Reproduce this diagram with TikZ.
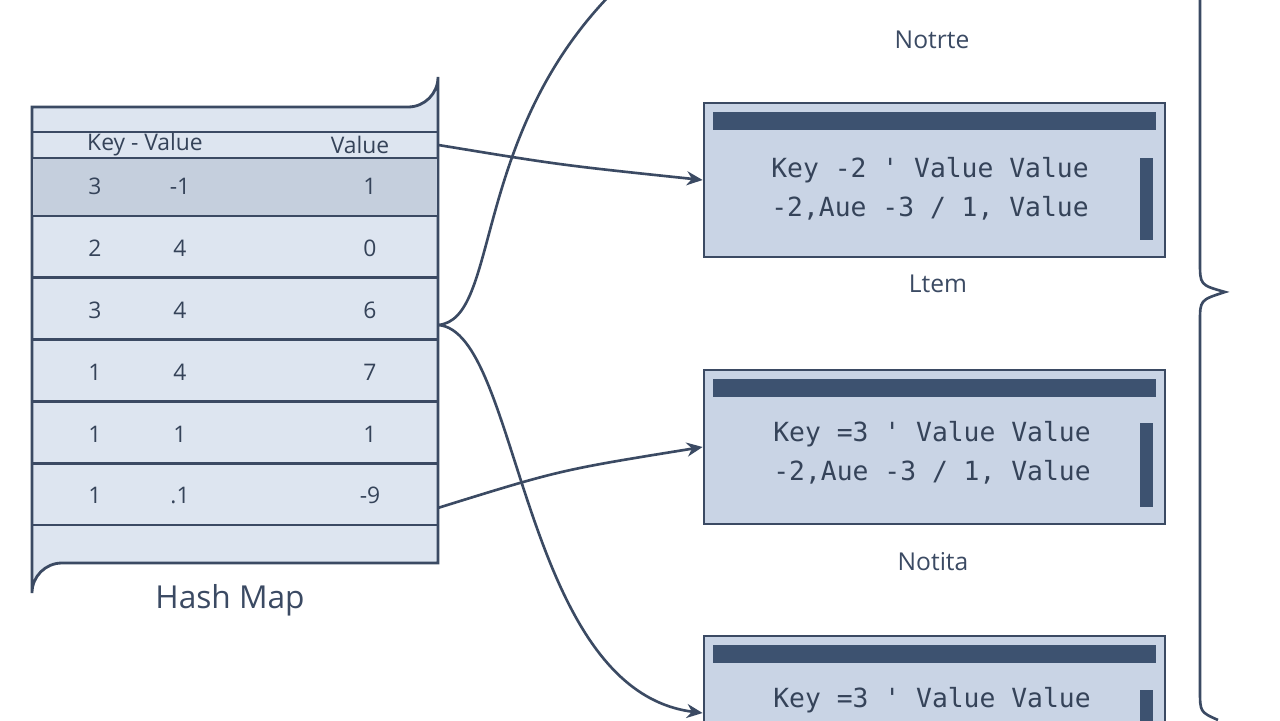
\documentclass[tikz,border=0pt]{standalone}
\usepackage{fontspec}
\setmainfont{Open Sans}
\newfontfamily\boxfont{DejaVu Sans Mono}
\usetikzlibrary{arrows.meta, positioning}
\definecolor{inkline}{HTML}{3B4A63}
\definecolor{tablefill}{HTML}{DDE5F0}
\definecolor{rowdark}{HTML}{C5CFDD}
\definecolor{boxfill}{HTML}{C9D4E5}
\definecolor{barfill}{HTML}{3D5270}
\newcommand{\rowheight}{62}
\newcommand{\boxlineA}{Key -2 ' Value Value}
\newcommand{\boxlineB}{Key =3 ' Value Value}
\newcommand{\boxlineC}{-2,Aue -3 / 1, Value}

\begin{document}
\begin{tikzpicture}[x=0.02cm, y=-0.02cm,
  line/.style={draw=inkline, line width=1.6pt},
  cell/.style={font=\fontsize{13}{15}\selectfont, text=inkline!90!black},
  item/.style={line, fill=boxfill, minimum width=461*0.02cm, minimum height=154*0.02cm, inner sep=0pt},
  bar/.style={fill=barfill, inner sep=0pt},
  boxtext/.style={font=\boxfont\fontsize{15}{22}\selectfont, text=inkline!90!black, align=center},
  caption/.style={font=\fontsize{14}{16}\selectfont, text=inkline},
  link/.style={draw=inkline, line width=1.5pt, -{Stealth[length=9pt, width=8pt]}}]
  \useasboundingbox (0,0) rectangle (1280,720);
  \fill[white] (0,0) rectangle (1280,720);

  %hash map table
  \path[line, fill=tablefill] (32,107) -- (408,107) arc[start angle=90, end angle=0, radius=30]
    -- (438,563) -- (62,563) arc[start angle=270, end angle=180, radius=30] -- cycle;
  \fill[rowdark] (33,158) rectangle (437,216);
  \draw[line] (32,132) -- (438,132);
  \draw[line] (32,158) -- (438,158);
  \draw[line] (32,216) -- (438,216);
  \foreach \i in {1,...,5}
    \draw[line] (32,216+\i*\rowheight-\i/5) -- (438,216+\i*\rowheight-\i/5);
  \node (tbl) at (235,335) [minimum width=406*0.02cm, minimum height=456*0.02cm] {};
  \node[cell] (head) at (145,145) {Key - Value};
  \node[cell] at (360,145) {Value};
  \foreach \a/\b/\c [count=\r] in {3/-1/1, 2/4/0, 3/4/6, 1/4/7, 1/1/1, 1/.1/-9} {
    \node[cell] (k\r) at (95,125+\r*\rowheight-\r/5) {\a};
    \node[cell] at (180,125+\r*\rowheight-\r/5) {\b};
    \node[cell] (v\r) at (370,125+\r*\rowheight-\r/5) {\c};
  }
  \node[caption, font=\fontsize{18}{20}\selectfont] (hash) at (230,600) {Hash Map};

  %item boxes
  \node[item] (A) at (934.5,180) {};
  \node[item] (B) at (934.5,447) {};
  \node[item] (C) at (934.5,713) {};
  \foreach \n in {A, B, C} {
    \node[bar, minimum width=443*0.02cm, minimum height=18*0.02cm, below=10*0.02cm of \n.north] {};
  }
  \node[bar, minimum width=13*0.02cm, minimum height=82*0.02cm] at (1146,199) {};
  \node[bar, minimum width=13*0.02cm, minimum height=84*0.02cm] at (1146,465) {};
  \node[bar, minimum width=13*0.02cm, minimum height=60*0.02cm] at (1146,720) {};
  \node[boxtext] at (930,189) {\boxlineA\\\boxlineC};
  \node[boxtext] at (932,453) {\boxlineB\\\boxlineC};
  \node[boxtext] at (932,700) {\boxlineB};

  %labels
  \node[caption] (top) at (932,40) {Notrte};
  \node[caption] (mid) at (938,284) {Ltem};
  \node[caption] (low) at (933,562) {Notita};

  %connectors
  \coordinate (split) at (438,325);
  \coordinate (topend) at (610,-5);
  \draw[link] (tbl.east |- head) .. controls (560,165) .. (A.west);
  \draw[link] (tbl.east |- v6) ++(0,12) .. controls (560,470) .. (B.west);
  \draw[line, line width=1.5pt] (split) .. controls (500,320) and (470,140) .. (topend);
  \draw[link] (split) .. controls (520,330) and (520,690) .. (C.west);

  %brace on the right
  \draw[line, line width=1.5pt] (1200,-5) -- (1200,262) .. controls (1200,285) .. (1225,292)
    .. controls (1200,300) .. (1200,322) -- (1200,690) .. controls (1200,712) .. (1218,720);
\end{tikzpicture}
\end{document}
